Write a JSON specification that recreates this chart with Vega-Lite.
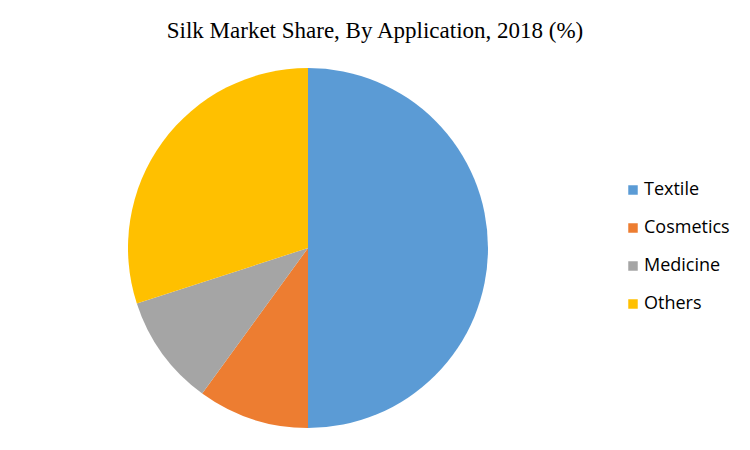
{
  "$schema": "https://vega.github.io/schema/vega-lite/v6.json",
  "autosize": "none",
  "width": 616,
  "height": 376,
  "padding": {"top": 60, "left": 0, "right": 134, "bottom": 14},
  "background": "white",
  "title": {
    "text": "Silk Market Share, By Application, 2018 (%)",
    "font": "Liberation Serif",
    "fontSize": 23,
    "fontWeight": "normal",
    "color": "#000000",
    "anchor": "middle",
    "frame": "group",
    "dx": 67,
    "offset": 17
  },
  "data": {
    "values": [
      {"application": "Textile", "share": 50, "rank": 1},
      {"application": "Cosmetics", "share": 10, "rank": 2},
      {"application": "Medicine", "share": 10, "rank": 3},
      {"application": "Others", "share": 30, "rank": 4}
    ]
  },
  "mark": {"type": "arc", "outerRadius": 180, "stroke": null},
  "encoding": {
    "theta": {"field": "share", "type": "quantitative", "stack": true},
    "order": {"field": "rank", "type": "quantitative", "sort": "ascending"},
    "color": {
      "field": "application",
      "type": "nominal",
      "sort": ["Textile", "Cosmetics", "Medicine", "Others"],
      "scale": {
        "domain": ["Textile", "Cosmetics", "Medicine", "Others"],
        "range": ["#5B9BD5", "#ED7D31", "#A5A5A5", "#FFC000"]
      },
      "legend": {
        "title": null,
        "orient": "none",
        "legendX": 624,
        "legendY": 121,
        "symbolType": "square",
        "symbolSize": 90,
        "symbolStrokeWidth": 0,
        "labelFont": "Open Sans",
        "labelFontSize": 18,
        "labelColor": "#000000",
        "labelOffset": 2,
        "rowPadding": 20
      }
    }
  },
  "view": {"stroke": null}
}
